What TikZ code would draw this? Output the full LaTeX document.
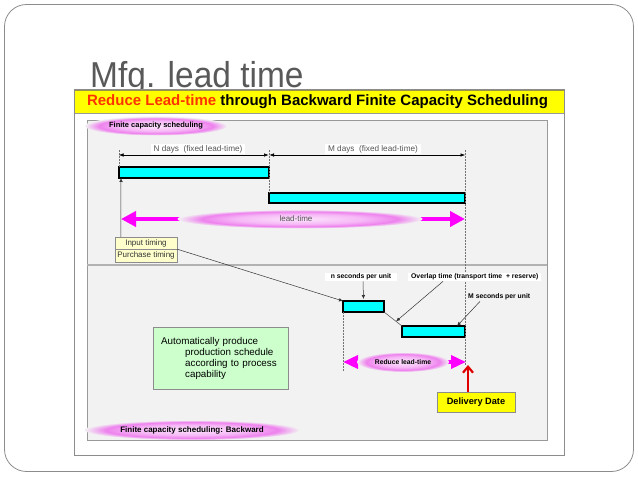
\documentclass[tikz,border=0pt]{standalone}
\usepackage{fontspec}
\usepackage{graphicx}
\setmainfont{Liberation Sans}
\usetikzlibrary{shapes.geometric,arrows.meta,calc}
\definecolor{panelbg}{HTML}{F2F2F2}
\definecolor{dimtext}{HTML}{555555}
\definecolor{glowlight}{HTML}{FCE4FC}
\definecolor{glowmid}{HTML}{F6B8F6}
\definecolor{glowpink}{HTML}{EE82EE}
\definecolor{arrowmag}{HTML}{FF00FF}
\definecolor{hdrred}{HTML}{FF3300}
\definecolor{hdryellow}{HTML}{FFFF00}
\definecolor{noteyellow}{HTML}{FFFFCC}
\definecolor{notegreen}{HTML}{CCFFCC}
\definecolor{titlegray}{HTML}{595959}
\definecolor{slideline}{HTML}{8C8C8C}
\definecolor{redarrow}{HTML}{E00000}
\definecolor{barcyan}{HTML}{00FFFF}
\pgfdeclareradialshading{glowshade}{\pgfpoint{0bp}{0bp}}{color(0bp)=(glowlight); color(13bp)=(glowmid); color(20bp)=(glowpink); color(25bp)=(panelbg); color(50bp)=(panelbg)}
\tikzset{
 bar/.style={draw=black, line width=1.1pt, fill=barcyan, inner sep=0pt, outer sep=0pt, anchor=north west},
 glow/.style={ellipse, shading=glowshade, inner sep=0pt, outer sep=0pt, font=\bfseries\fontsize{7.5}{9}\selectfont},
 dimline/.style={black, line width=0.5pt, {Latex[length=4.5pt,width=3.5pt]}-{Latex[length=4.5pt,width=3.5pt]}},
 dimlabel/.style={fill=white, text=dimtext, font=\fontsize{8.2}{9}\selectfont, inner xsep=3pt, inner ysep=1.2pt},
 guide/.style={draw=black!55, densely dotted, line width=0.5pt},
 pointer/.style={draw=black!80, line width=0.5pt, -{Latex[length=4pt,width=3.5pt]}},
 timingbox/.style={draw=black!45, fill=noteyellow, minimum width=62pt, inner sep=0pt, font=\fontsize{8}{9}\selectfont, text=black!80},
 smalllabel/.style={font=\bfseries\fontsize{6.8}{8}\selectfont, inner xsep=3pt, inner ysep=1pt},
 magarrow/.style={draw=arrowmag, line width=4.5pt, {Triangle[length=15pt,width=15pt]}-{Triangle[length=15pt,width=15pt]}},
 magarrowsmall/.style={draw=arrowmag, line width=3.5pt, {Triangle[length=15pt,width=13pt]}-{Triangle[length=15pt,width=13pt]}},
}
\begin{document}
\begin{tikzpicture}[x=1pt,y=-1pt]
\useasboundingbox (0,0) rectangle (638,478);
\fill[white] (0,0) rectangle (638,478);
% slide
\draw[draw=slideline, line width=0.8pt, rounded corners=22pt] (4.5,4.5) rectangle (633.5,471.5);
\node[anchor=base west, inner sep=0pt, text=titlegray, font=\fontsize{36}{40}\selectfont] (title) at (90,88) {\scalebox{0.93}[1]{Mfg. lead time}};
% frame
\draw[fill=white, draw=black!45, line width=1pt] (74,90) rectangle (564,456);
\fill[hdryellow] (74.5,90) rectangle (563.5,113);
\draw[yellow!55!black, line width=1.2pt] (74.5,90.6) -- (563.5,90.6);
\draw[black!40, line width=0.8pt] (74.5,113) -- (563.5,113);
\node[font=\bfseries\fontsize{15}{18}\selectfont, inner sep=0pt] (hdr) at (317.5,101.5) {\textcolor{hdrred}{Reduce Lead-time} through Backward Finite Capacity Scheduling};
% panel
\draw[fill=panelbg, draw=black!40, line width=0.8pt] (87,120) rectangle (547,440);
\draw[black!30, line width=1.6pt] (87,265) -- (547,265);
\node[glow, minimum width=142pt, minimum height=19pt] (tg) at (156,126) {Finite capacity scheduling};
% bars
\node[bar, minimum width=150pt, minimum height=11pt] (b1) at (119,167) {};
\node[bar, minimum width=196pt, minimum height=10pt] (b2) at (269,193) {};
\node[bar, minimum width=41pt, minimum height=11pt] (b3) at (343,301) {};
\node[bar, minimum width=63pt, minimum height=11pt] (b4) at (402,326) {};
% guides
\coordinate (gA) at (119,150);
\coordinate (gB) at (269,150);
\coordinate (gC) at (465,150);
\coordinate (gCe) at (465,366);
\coordinate (gDe) at (343,372);
\draw[guide] (gA) -- (b1.north west);
\draw[guide] (gB) -- (b2.north west);
\draw[guide] (gC) -- (gCe);
\draw[guide] (b3.south west) -- (gDe);
% dimension lines
\coordinate (nL) at (119,155); \coordinate (nR) at (268.5,155);
\coordinate (mL) at (269.5,155); \coordinate (mR) at (465,155);
\draw[dimline] (nL) -- (nR);
\draw[dimline] (mL) -- (mR);
\node[dimlabel] (nd) at (198,149) {N days \ (fixed lead-time)};
\node[dimlabel] (md) at (373,149) {M days \ (fixed lead-time)};
% lead-time
\coordinate (ltL) at (121,219); \coordinate (ltR) at (465,219);
\draw[magarrow] (ltL) -- (ltR);
\node[glow, minimum width=245pt, minimum height=19pt, font=\fontsize{8}{9}\selectfont, text=dimtext] (ltg) at (300,219) {\hspace*{-8pt}lead-time};
% timing boxes
\node[timingbox, minimum height=12pt] (it) at (146,243) {Input timing};
\node[timingbox, minimum height=13pt, anchor=north] (pt) at (it.south) {Purchase timing};
\draw[pointer] ([xshift=6pt]it.north west) -- ([xshift=2pt]b1.south west);
\draw[pointer] (pt.north east) -- (b3.north west);
% lower labels
\node[smalllabel, fill=white, inner xsep=6pt] (ns) at (361,277) {n seconds per unit};
\node[smalllabel, fill=white, anchor=west] (ov) at (408,277) {Overlap time (transport time \ + reserve)};
\node[smalllabel, anchor=west] (ms) at (465,297) {M seconds per unit};
\coordinate (ovp) at ($(b3.south east)!0.67!(b4.north west)$);
\draw[black!70, line width=0.5pt] (b3.south east) -- (b4.north west);
\draw[pointer] ([xshift=2pt]ns.south) -- ([yshift=2pt]b3.north);
\draw[pointer] ([xshift=35pt]ov.south west) -- (ovp);
\draw[pointer] ([xshift=15pt]ms.south west) -- ([xshift=-8pt]b4.north east);
% reduce lead-time
\coordinate (rL) at (343,362); \coordinate (rR) at (466,362);
\draw[magarrowsmall] (rL) -- (rR);
\node[glow, minimum width=92pt, minimum height=20pt, font=\bfseries\fontsize{6.8}{8}\selectfont] (rg) at (403,362) {Reduce lead-time};
% delivery
\node[draw=black!45, fill=hdryellow, minimum width=78pt, minimum height=20pt, inner sep=0pt, font=\bfseries\fontsize{9.2}{11}\selectfont] (dl) at (476,402) {Delivery Date};
\coordinate (ddt) at (468,365);
\draw[draw=redarrow, line width=2.2pt, -{Straight Barb[length=6pt,width=10pt]}] ([xshift=-8pt]dl.north) -- (ddt);
% green box
\node[draw=black!45, fill=notegreen, minimum height=62pt, inner xsep=8pt, align=left, anchor=west, text width=119pt, font=\fontsize{9.8}{11}\selectfont] (ap) at (153,358) {Automatically produce\\\hspace*{24pt}production schedule\\\hspace*{24pt}according to process\\\hspace*{24pt}capability};
% bottom glow
\node[glow, minimum width=215pt, minimum height=20pt, font=\bfseries\fontsize{8}{9}\selectfont] (bg) at (192,430) {Finite capacity scheduling: Backward};
\end{tikzpicture}
\end{document}
